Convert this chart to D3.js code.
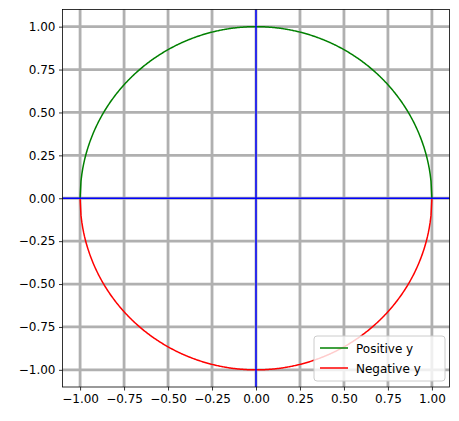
<!DOCTYPE html>
<html><head><meta charset="utf-8">
<script src="https://cdn.jsdelivr.net/npm/d3@7"></script>
<style>body{margin:0;background:#fff}text{font-family:"DejaVu Sans",sans-serif}</style>
</head><body><div id="graph"></div>
<script>
"use strict"
var ticks=[-1.00,-0.75,-0.50,-0.25,0.00,0.25,0.50,0.75,1.00]
var tickLabels=["−1.00","−0.75","−0.50","−0.25","0.00","0.25","0.50","0.75","1.00"]
var xSamples=d3.range(-1,1.0001,0.005)
var seriesNames=["Positive y","Negative y"]
var seriesColors=["green","red"]

var W=459,H=421
var svg=d3.select('#graph').append('svg').attr('width',W).attr('height',H)
var x=d3.scaleLinear().domain([-1.1,1.1]).range([62.5,449.5])
var y=d3.scaleLinear().domain([-1.1,1.1]).range([387,9.5])

// grid
var g=svg.append('g')
ticks.forEach(function(t){
  g.append('line').attr('x1',x(t)).attr('x2',x(t)).attr('y1',y(-1.1)).attr('y2',y(1.1)).attr('stroke','#b0b0b0').attr('stroke-width',2.8)
  g.append('line').attr('y1',y(t)).attr('y2',y(t)).attr('x1',x(-1.1)).attr('x2',x(1.1)).attr('stroke','#b0b0b0').attr('stroke-width',2.8)
})

// half circles
var pos=xSamples.map(function(v){return [v,Math.sqrt(Math.max(0,1-v*v))]})
var neg=xSamples.map(function(v){return [v,-Math.sqrt(Math.max(0,1-v*v))]})
var line=d3.line().x(function(d){return x(d[0])}).y(function(d){return y(d[1])})
;[pos,neg].forEach(function(s,i){
  svg.append('path').attr('d',line(s)).attr('fill','none').attr('stroke',seriesColors[i]).attr('stroke-width',1.5)
})

// axes lines
svg.append('line').attr('x1',x(0)).attr('x2',x(0)).attr('y1',y(-1.1)).attr('y2',y(1.1)).attr('stroke','blue').attr('stroke-width',1.5)
svg.append('line').attr('y1',y(0)).attr('y2',y(0)).attr('x1',x(-1.1)).attr('x2',x(1.1)).attr('stroke','blue').attr('stroke-width',1.5)

// frame
svg.append('rect').attr('x',x(-1.1)).attr('y',y(1.1)).attr('width',x(1.1)-x(-1.1)).attr('height',y(-1.1)-y(1.1)).attr('fill','none').attr('stroke','black').attr('stroke-width',0.8)

// ticks
var xa=svg.append('g').attr('transform','translate(0,'+y(-1.1)+')')
  .call(d3.axisBottom(x).tickValues(ticks).tickFormat(function(d,i){return tickLabels[i]}).tickSize(3.5).tickPadding(3.5))
var ya=svg.append('g').attr('transform','translate('+x(-1.1)+',0)')
  .call(d3.axisLeft(y).tickValues(ticks).tickFormat(function(d,i){return tickLabels[i]}).tickSize(3.5).tickPadding(3.5))
;[xa,ya].forEach(function(a){
  a.select('.domain').remove()
  a.selectAll('text').attr('font-size',12).attr('fill','black').style('font-family','DejaVu Sans')
  a.selectAll('line').attr('stroke','black').attr('stroke-width',0.8)
})

// legend
var lg=svg.append('g').attr('transform','translate(314,336)')
lg.append('rect').attr('width',131).attr('height',45).attr('rx',3).attr('fill','white').attr('fill-opacity',0.8).attr('stroke','#cccccc')
seriesNames.forEach(function(n,i){
  lg.append('line').attr('x1',6).attr('x2',34).attr('y1',12+i*20).attr('y2',12+i*20).attr('stroke',seriesColors[i]).attr('stroke-width',1.5)
  lg.append('text').attr('x',42).attr('y',16.5+i*20).attr('font-size',12).text(n)
})
</script></body></html>
